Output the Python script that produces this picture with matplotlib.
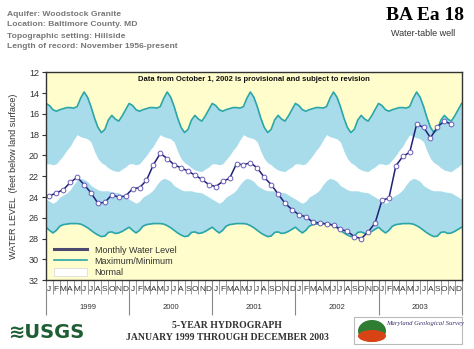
import numpy as np
import matplotlib
matplotlib.use('Agg')
import matplotlib.pyplot as plt
from matplotlib.patches import Rectangle, Ellipse
from matplotlib.lines import Line2D
from matplotlib.transforms import blended_transform_factory

plt.rcParams['font.family'] = ['Liberation Sans', 'DejaVu Sans']

# monthly water level, feet below land surface (Jan 1999 - Dec 2003)
level_1999 = [23.9, 23.6, 23.3, 22.6, 22.1, 22.8, 23.6, 24.6, 24.5, 23.8, 24.0, 23.9]
level_2000 = [23.2, 23.1, 22.4, 20.9, 19.8, 20.3, 20.9, 21.2, 21.5, 21.9, 22.3, 22.8]
level_2001 = [23.0, 22.5, 22.2, 20.8, 20.9, 20.7, 21.2, 22.1, 22.8, 23.7, 24.6, 25.2]
level_2002 = [25.7, 25.9, 26.4, 26.5, 26.6, 26.7, 27.1, 27.3, 27.8, 28.0, 27.35, 26.5]
level_2003 = [24.3, 24.1, 21.0, 20.1, 19.7, 17.0, 17.3, 18.3, 17.25, 16.7, 17.0, np.nan]

# yearly statistics of record, read every half month
max_cycle = [15.0, 15.2, 15.6, 15.75, 15.6, 15.5, 15.4, 15.4, 15.45, 15.3, 14.5, 13.9,
             14.4, 15.3, 16.4, 17.3, 17.8, 17.5, 16.6, 16.15, 16.5, 16.7, 16.2, 15.6]
normal_top_cycle = [20.8, 20.8, 20.9, 20.8, 20.4, 20.0, 19.5, 19.1, 18.5, 18.0, 18.2, 18.3,
                    18.4, 18.7, 19.6, 20.3, 20.7, 20.9, 21.2, 21.4, 21.5, 21.55, 21.3, 21.1]
normal_bot_cycle = [24.2, 24.4, 24.6, 24.4, 24.0, 23.8, 23.6, 23.3, 22.8, 22.4, 22.2, 22.3,
                    22.5, 22.9, 23.1, 23.3, 23.4, 23.4, 23.4, 23.5, 23.55, 23.6, 23.8, 24.0]
min_cycle = [26.9, 27.2, 27.45, 27.2, 26.8, 26.65, 26.6, 26.55, 26.55, 26.55, 26.6, 26.75,
             26.95, 27.2, 27.45, 27.65, 27.8, 27.75, 27.4, 27.35, 27.5, 27.45, 27.3, 27.1]

years = ['1999', '2000', '2001', '2002', '2003']
months = list('JFMAMJJASOND')

level = np.array(level_1999 + level_2000 + level_2001 + level_2002 + level_2003)
x_month = np.arange(len(level)) + 0.5

n_years = len(years)
x_half = np.arange(0, 12 * n_years + 0.5, 0.5)
def yearly(cycle):
    return np.append(np.tile(cycle, n_years), cycle[0])
max_line = yearly(max_cycle)
min_line = yearly(min_cycle)
norm_top = yearly(normal_top_cycle)
norm_bot = yearly(normal_bot_cycle)

yellow = '#FFFDCB'
blue = '#A8DCEB'
teal = '#2AA6A8'
navy = '#202078'

fig = plt.figure(figsize=(4.74, 3.49), dpi=100)
ax = fig.add_axes([0.097, 0.197, 0.877, 0.596])
ax.set_facecolor(yellow)

ax.fill_between(x_half, max_line, min_line, color=blue, lw=0)
ax.fill_between(x_half, norm_top, norm_bot, color='white', lw=0)
ax.plot(x_half, max_line, color=teal, lw=1.2)
ax.plot(x_half, min_line, color=teal, lw=1.2)
ax.plot(x_month, level, color=navy, lw=1.1, marker='o', ms=3.4,
        mfc='white', mec='#6A5CB8', mew=0.7)

ax.set_xlim(0, 12 * n_years)
ax.set_ylim(32, 12)
ax.set_yticks(np.arange(12, 33, 2))
ax.tick_params(axis='y', labelsize=6.5, length=3, width=0.8, colors='#333333', pad=2)
ax.set_ylabel('WATER LEVEL  (feet below land surface)', fontsize=6.5, color='#333333', labelpad=8)

ax.set_xticks(np.arange(0, 12 * n_years + 1, 12))
ax.set_xticks(np.arange(0, 12 * n_years + 1, 1), minor=True)
ax.set_xticklabels([])
ax.tick_params(axis='x', which='major', length=25, width=0.8, color='#888888')
ax.tick_params(axis='x', which='minor', length=10, width=0.6, color='#888888')
for s in ax.spines.values():
    s.set_color('#333333')
    s.set_linewidth(1.0)

trans = blended_transform_factory(ax.transData, ax.transAxes)
for y, yr in enumerate(years):
    for m, lab in enumerate(months):
        ax.text(12 * y + m + 0.5, -0.045, lab, transform=trans, ha='center', va='center',
                fontsize=6, color='#333333')
    ax.text(12 * y + 6, -0.13, yr, transform=trans, ha='center', va='center',
            fontsize=5.5, color='#333333')

ax.text(0.5, 0.965, 'Data from October 1, 2002 is provisional and subject to revision',
        transform=ax.transAxes, ha='center', va='center', fontsize=5.5,
        fontweight='bold', color='#111111')

handles = [Line2D([], [], color='#4A4A70', lw=2.2),
           Line2D([], [], color=teal, lw=1.2),
           Rectangle((0, 0), 1, 1, facecolor='white', edgecolor='#DDDDDD', lw=0.6)]
ax.legend(handles, ['Monthly Water Level', 'Maximum/Minimum', 'Normal'],
          loc='lower left', bbox_to_anchor=(0.0, -0.025), frameon=False, fontsize=6.5,
          handlelength=3.6, handleheight=1.0, handletextpad=0.9, labelspacing=0.25,
          labelcolor='#333333')

info = ['Aquifer: Woodstock Granite', 'Location: Baltimore County. MD',
        'Topographic setting: Hillside', 'Length of record: November 1956-present']
for i, t in enumerate(info):
    fig.text(7 / 474, 1 - (14 + 11 * i) / 349, t, fontsize=6.1, fontweight='bold',
             color='#777777', va='center')

fig.text(425 / 474, 1 - 16 / 349, 'BA Ea 18', fontsize=14, fontweight='bold',
         family='Liberation Serif', ha='center', va='center', color='black')
fig.text(423 / 474, 1 - 34 / 349, 'Water-table well', fontsize=6.5, ha='center',
         va='center', color='#333333')

fig.text(227 / 474, 1 - 325 / 349, '5-YEAR HYDROGRAPH', fontsize=7, fontweight='bold',
         family='Liberation Serif', ha='center', va='center', color='#333333')
fig.text(227 / 474, 1 - 337 / 349, 'JANUARY 1999 THROUGH DECEMBER 2003', fontsize=7,
         fontweight='bold', family='Liberation Serif', ha='center', va='center', color='#333333')

fig.text(9 / 474, 1 - 332 / 349, '\u224BUSGS', fontsize=14, fontweight='bold',
         color='#1E5E32', va='center', family=['Liberation Sans Narrow', 'DejaVu Sans'])

fig.patches.append(Rectangle((354 / 474, 1 - 344 / 349), 108 / 474, 27 / 349,
                             transform=fig.transFigure, facecolor='white',
                             edgecolor='#BBBBBB', lw=0.8))
fig.patches.append(Ellipse((372 / 474, 1 - 331 / 349), 28 / 474, 22 / 349,
                           transform=fig.transFigure, facecolor='#2E7D32', edgecolor='none'))
fig.patches.append(Ellipse((372 / 474, 1 - 336 / 349), 28 / 474, 12 / 349,
                           transform=fig.transFigure, facecolor='#D84315', edgecolor='none'))
fig.text(425 / 474, 1 - 323 / 349, 'Maryland Geological Survey', fontsize=4.8,
         style='italic', family='Liberation Serif', ha='center', va='center', color='#3A2A6A')

fig.savefig('out.png', dpi=100)
